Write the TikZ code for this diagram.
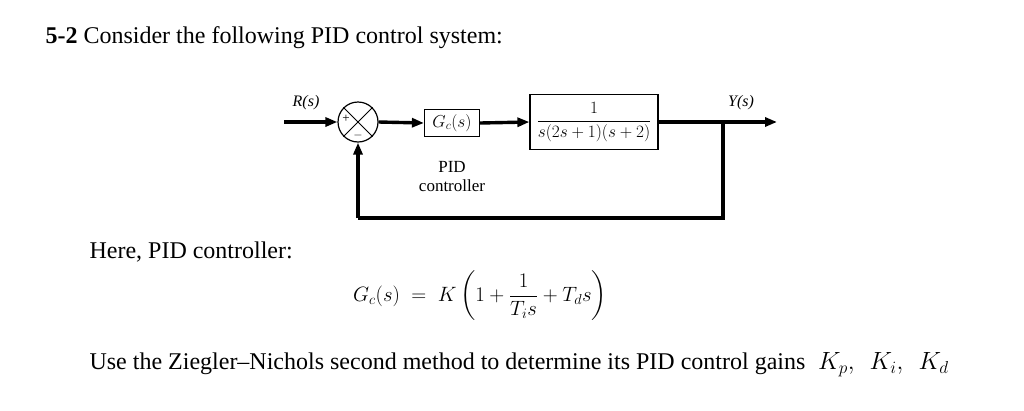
\documentclass[tikz,border=0pt]{standalone}
\usepackage{amsmath}
\usepackage{fontspec}
\setmainfont{Liberation Serif}
\usetikzlibrary{arrows.meta}
\begin{document}
\begin{tikzpicture}[x=1pt,y=-1pt,
  sig/.style={line width=3.4pt,-{Triangle[length=12pt,width=9pt]}},
  ln/.style={line width=3.4pt},
  blk/.style={draw,line width=1.2pt,inner sep=0pt},
  lbl/.style={font=\fontsize{16}{18}\selectfont\itshape}]
\useasboundingbox (0,0) rectangle (1024,410);
\node[anchor=west,font=\fontsize{24}{28}\selectfont] (title) at (42,38) {\textbf{5-2} Consider the following PID control system:};
\node[draw,circle,line width=1.2pt,minimum size=40pt,inner sep=0pt] (sum) at (358,122) {};
\draw[line width=0.9pt] (sum.45)--(sum.225) (sum.135)--(sum.315);
\node[font=\fontsize{13}{13}\selectfont] at (346,119) {+};
\node[font=\fontsize{13}{13}\selectfont] at (358,135) {$-$};
\coordinate (in) at (284,122);
\node[lbl] (R) at (306,103) {R(s)};
\node[blk,minimum width=55pt,minimum height=27pt,font=\fontsize{18}{20}\selectfont] (gc) at (452,123) {$G_c(s)$};
\node[blk,minimum width=128pt,minimum height=55pt,font=\fontsize{17}{20}\selectfont] (plant) at (594,122) {$\dfrac{1}{s(2s+1)(s+2)}$};
\node[font=\fontsize{17}{19}\selectfont,align=center] (pid) at (452,177) {PID\\controller};
\coordinate (out) at (777,122);
\coordinate (tk) at (723,122);
\coordinate (bot) at (723,218);
\coordinate (bl) at (358,218);
\node[lbl] (Y) at (741,103) {Y(s)};
\draw[sig] (in)--(sum.west);
\draw[sig] (sum.east)--(gc.west);
\draw[sig] (gc.east)--(plant.west);
\draw[sig] (plant.east)--(out);
\draw[ln] (tk)--(bot)--(bl);
\draw[sig] (bl)--(sum.south);
\node[anchor=west,font=\fontsize{24}{28}\selectfont] (here) at (86,252) {Here, PID controller:};
\node[font=\fontsize{22}{26}\selectfont] (eq) at (480,296) {$G_c(s)\;=\;K\left(1+\dfrac{1}{T_i s}+T_d s\right)$};
\node[anchor=west,font=\fontsize{24}{28}\selectfont] (use) at (86,365) {Use the Ziegler--Nichols second method to determine its PID control gains\; $K_p,\;\,K_i,\;\,K_d$};
\end{tikzpicture}
\end{document}
